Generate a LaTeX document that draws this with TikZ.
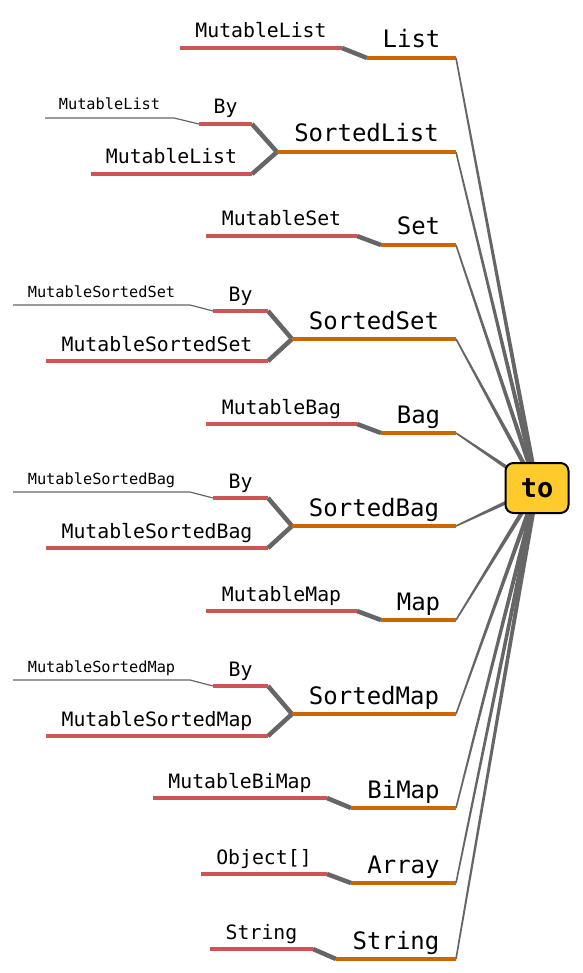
\documentclass[tikz,border=0pt]{standalone}
\usepackage{fontspec}
\setmonofont{DejaVu Sans Mono}
\usetikzlibrary{calc,backgrounds}

\definecolor{sourcered}{HTML}{CD5555}
\definecolor{kindorange}{HTML}{CC6600}
\definecolor{linkgrey}{HTML}{666666}
\definecolor{rootyellow}{HTML}{FFCA2C}

\tikzset{
kind/.style={kindorange, line width=4.5pt},
source/.style={sourcered, line width=4.5pt},
joint/.style={linkgrey, line width=4.5pt},
hint/.style={linkgrey, line width=1.2pt},
biglbl/.style={text=black, anchor=base, yshift=10pt, inner sep=0pt,
  font=\ttfamily\fontsize{24}{24}\selectfont},
midlbl/.style={text=black, anchor=base, yshift=10pt, inner sep=0pt,
  font=\ttfamily\fontsize{19.8}{20}\selectfont},
smalllbl/.style={text=black, anchor=base, yshift=8pt, inner sep=0pt,
  font=\ttfamily\fontsize{15.3}{16}\selectfont},
rootbox/.style={draw=black, line width=2pt, fill=rootyellow, rounded corners=8pt,
  minimum width=63pt, minimum height=50pt, inner sep=0pt,
  font=\ttfamily\bfseries\fontsize{27}{27}\selectfont},
}

\begin{document}
\begin{tikzpicture}[x=1pt, y=-1pt]
\useasboundingbox (0,0) rectangle (582,973);

% Root of the tree
\node[rootbox] (root) at (537,488) {to};

% End points of every segment
\coordinate (list-l) at (367,58);   \coordinate (list-r) at (456,58);
\coordinate (mlist-l) at (180,48);  \coordinate (mlist-r) at (342,48);

\coordinate (slist-l) at (277,152); \coordinate (slist-r) at (456,152);
\coordinate (slby-l) at (199,124);  \coordinate (slby-r) at (252,124);
\coordinate (slhint-l) at (45,118); \coordinate (slhint-m) at (174,118);
\coordinate (slsrc-l) at (91,174);  \coordinate (slsrc-r) at (252,174);

\coordinate (set-l) at (381,245);   \coordinate (set-r) at (456,245);
\coordinate (mset-l) at (206,236);  \coordinate (mset-r) at (357,236);

\coordinate (sset-l) at (292,339);  \coordinate (sset-r) at (456,339);
\coordinate (ssby-l) at (213,311);  \coordinate (ssby-r) at (268,311);
\coordinate (sshint-l) at (13,305); \coordinate (sshint-m) at (190,305);
\coordinate (sssrc-l) at (46,361);  \coordinate (sssrc-r) at (268,361);

\coordinate (bag-l) at (381,433);   \coordinate (bag-r) at (456,433);
\coordinate (mbag-l) at (206,424);  \coordinate (mbag-r) at (357,424);

\coordinate (sbag-l) at (292,526);  \coordinate (sbag-r) at (456,526);
\coordinate (sbby-l) at (213,498);  \coordinate (sbby-r) at (268,498);
\coordinate (sbhint-l) at (13,492); \coordinate (sbhint-m) at (190,492);
\coordinate (sbsrc-l) at (46,548);  \coordinate (sbsrc-r) at (268,548);

\coordinate (map-l) at (381,620);   \coordinate (map-r) at (456,620);
\coordinate (mmap-l) at (206,611);  \coordinate (mmap-r) at (357,611);

\coordinate (smap-l) at (292,714);  \coordinate (smap-r) at (456,714);
\coordinate (smby-l) at (213,686);  \coordinate (smby-r) at (268,686);
\coordinate (smhint-l) at (13,680); \coordinate (smhint-m) at (190,680);
\coordinate (smsrc-l) at (46,736);  \coordinate (smsrc-r) at (268,736);

\coordinate (bimap-l) at (351,808); \coordinate (bimap-r) at (456,808);
\coordinate (mbimap-l) at (153,798);\coordinate (mbimap-r) at (327,798);

\coordinate (array-l) at (351,883); \coordinate (array-r) at (456,883);
\coordinate (obj-l) at (201,874);   \coordinate (obj-r) at (327,874);

\coordinate (string-l) at (336,959);\coordinate (string-r) at (456,959);
\coordinate (str-l) at (210,949);   \coordinate (str-r) at (313,949);

% Tapered edges into the root, behind everything
\begin{scope}[on background layer]
\foreach \k in {list,slist,set,sset,bag,sbag,map,smap,bimap,array,string} {
\fill[linkgrey] ($(\k-r)!0.8pt!90:(root)$) -- ($(root)!2.4pt!-90:(\k-r)$)
  -- ($(root)!2.4pt!90:(\k-r)$) -- ($(\k-r)!0.8pt!-90:(root)$) -- cycle;
}
\end{scope}

% Joints between sources and kinds
\foreach \a/\b in {mlist-r/list-l, slby-r/slist-l, slsrc-r/slist-l, mset-r/set-l,
  ssby-r/sset-l, sssrc-r/sset-l, mbag-r/bag-l, sbby-r/sbag-l, sbsrc-r/sbag-l,
  mmap-r/map-l, smby-r/smap-l, smsrc-r/smap-l, mbimap-r/bimap-l, obj-r/array-l,
  str-r/string-l}
\draw[joint] (\a) -- (\b);

% Thin hints in front of the By branches
\draw[hint] (slhint-l) -- (slhint-m) node[midway, smalllbl] (slhint-t) {MutableList} -- (slby-l);
\draw[hint] (sshint-l) -- (sshint-m) node[midway, smalllbl] (sshint-t) {MutableSortedSet} -- (ssby-l);
\draw[hint] (sbhint-l) -- (sbhint-m) node[midway, smalllbl] (sbhint-t) {MutableSortedBag} -- (sbby-l);
\draw[hint] (smhint-l) -- (smhint-m) node[midway, smalllbl] (smhint-t) {MutableSortedMap} -- (smby-l);

% Source segments (red)
\draw[source] (mlist-l) -- (mlist-r) node[midway, midlbl] (mlist-t) {MutableList};
\draw[source] (slby-l) -- (slby-r) node[midway, midlbl] (slby-t) {By};
\draw[source] (slsrc-l) -- (slsrc-r) node[midway, midlbl] (slsrc-t) {MutableList};
\draw[source] (mset-l) -- (mset-r) node[midway, midlbl] (mset-t) {MutableSet};
\draw[source] (ssby-l) -- (ssby-r) node[midway, midlbl] (ssby-t) {By};
\draw[source] (sssrc-l) -- (sssrc-r) node[midway, midlbl] (sssrc-t) {MutableSortedSet};
\draw[source] (mbag-l) -- (mbag-r) node[midway, midlbl] (mbag-t) {MutableBag};
\draw[source] (sbby-l) -- (sbby-r) node[midway, midlbl] (sbby-t) {By};
\draw[source] (sbsrc-l) -- (sbsrc-r) node[midway, midlbl] (sbsrc-t) {MutableSortedBag};
\draw[source] (mmap-l) -- (mmap-r) node[midway, midlbl] (mmap-t) {MutableMap};
\draw[source] (smby-l) -- (smby-r) node[midway, midlbl] (smby-t) {By};
\draw[source] (smsrc-l) -- (smsrc-r) node[midway, midlbl] (smsrc-t) {MutableSortedMap};
\draw[source] (mbimap-l) -- (mbimap-r) node[midway, midlbl] (mbimap-t) {MutableBiMap};
\draw[source] (obj-l) -- (obj-r) node[midway, midlbl] (obj-t) {Object[]};
\draw[source] (str-l) -- (str-r) node[midway, midlbl] (str-t) {String};

% Kind segments (orange)
\draw[kind] (list-l) -- (list-r) node[midway, biglbl] (list-t) {List};
\draw[kind] (slist-l) -- (slist-r) node[midway, biglbl] (slist-t) {SortedList};
\draw[kind] (set-l) -- (set-r) node[midway, biglbl] (set-t) {Set};
\draw[kind] (sset-l) -- (sset-r) node[midway, biglbl] (sset-t) {SortedSet};
\draw[kind] (bag-l) -- (bag-r) node[midway, biglbl] (bag-t) {Bag};
\draw[kind] (sbag-l) -- (sbag-r) node[midway, biglbl] (sbag-t) {SortedBag};
\draw[kind] (map-l) -- (map-r) node[midway, biglbl] (map-t) {Map};
\draw[kind] (smap-l) -- (smap-r) node[midway, biglbl] (smap-t) {SortedMap};
\draw[kind] (bimap-l) -- (bimap-r) node[midway, biglbl] (bimap-t) {BiMap};
\draw[kind] (array-l) -- (array-r) node[midway, biglbl] (array-t) {Array};
\draw[kind] (string-l) -- (string-r) node[midway, biglbl] (string-t) {String};

\end{tikzpicture}
\end{document}
